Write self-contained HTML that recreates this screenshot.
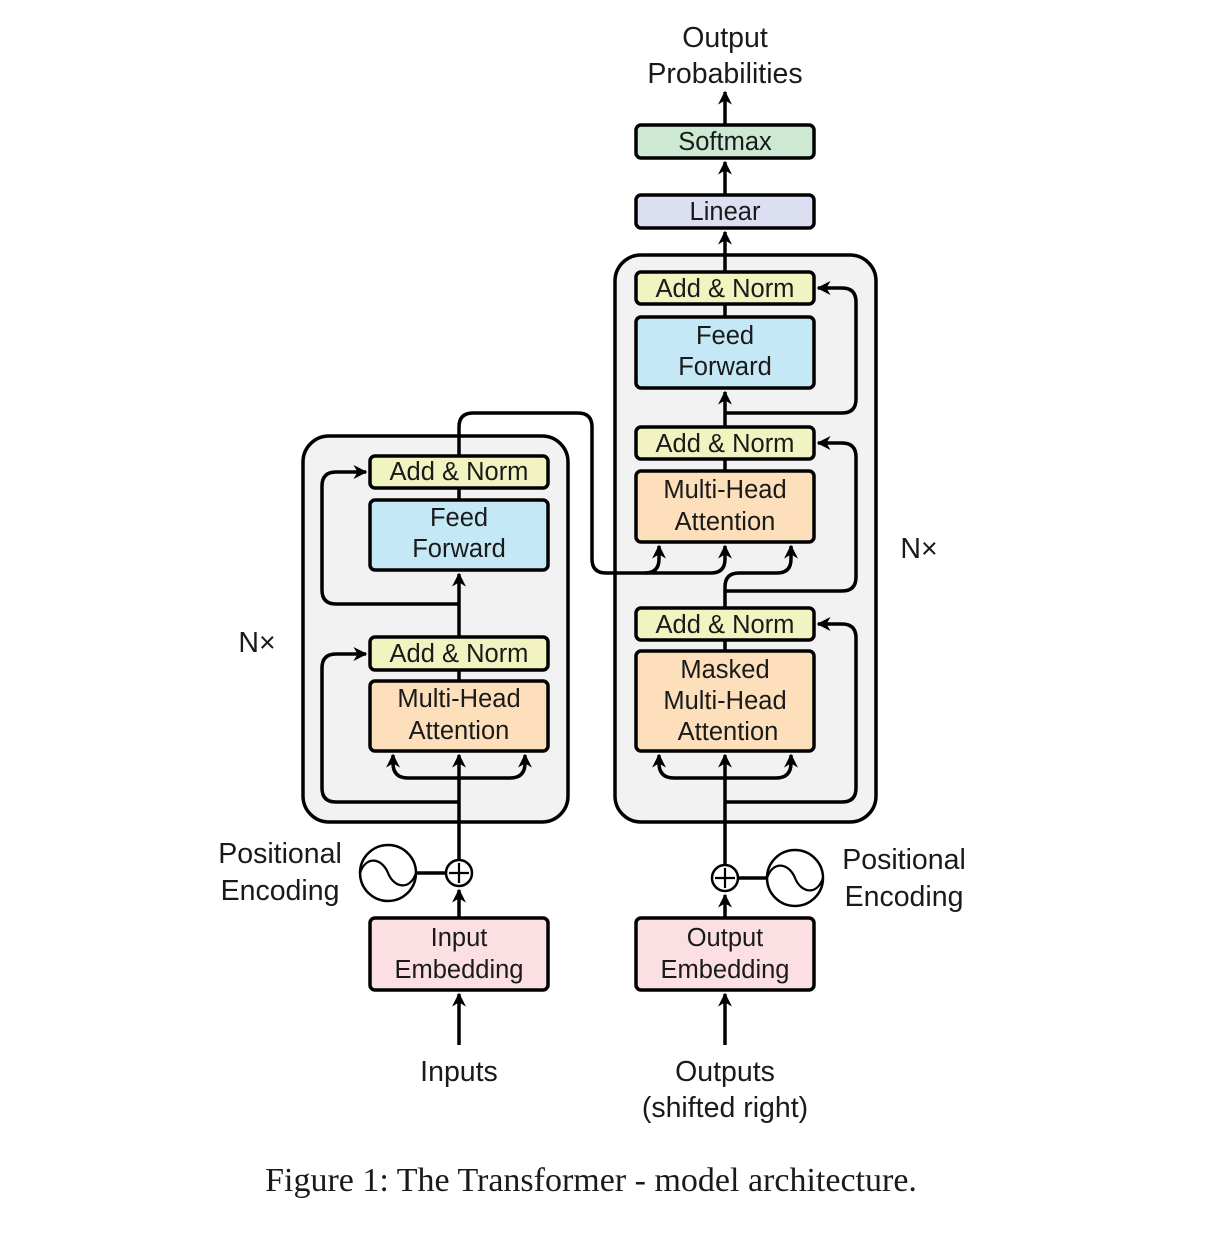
<!DOCTYPE html>
<html><head><meta charset="utf-8"><style>
html,body{margin:0;padding:0;background:#fff;}
svg{display:block;}
text{font-family:"Liberation Sans",sans-serif;fill:#1a1a1a;}
</style></head><body>
<svg width="1210" height="1236" viewBox="0 0 1210 1236" xmlns="http://www.w3.org/2000/svg">
<defs>
<marker id="a" viewBox="0 0 10 10" refX="9" refY="5" markerWidth="4" markerHeight="4" orient="auto-start-reverse" markerUnits="strokeWidth">
<path d="M0,0 L10,5 L0,10 L3,5 z" fill="#000"/></marker>
</defs>
<g stroke="#000" stroke-width="3.5" fill="none">
<rect x="303" y="436" width="265" height="386" rx="26" fill="#f2f2f2"/>
<rect x="615" y="255" width="261" height="567" rx="26" fill="#f2f2f2"/>
</g>
<g stroke="#000" stroke-width="3.5" fill="none" stroke-linejoin="round">
<path d="M459 1045 V994" marker-end="url(#a)"/>
<path d="M459 918 V890" marker-end="url(#a)"/>
<path d="M459 860 V755" marker-end="url(#a)"/>
<path d="M459 778 H408 Q393 778 393 763 V755" marker-end="url(#a)"/>
<path d="M459 778 H510 Q525 778 525 763 V755" marker-end="url(#a)"/>
<path d="M459 802 H336 Q322 802 322 788 V668 Q322 654 336 654 H366" marker-end="url(#a)"/>
<path d="M459 670 V681"/>
<path d="M459 637 V574" marker-end="url(#a)"/>
<path d="M459 604 H336 Q322 604 322 590 V486 Q322 472 336 472 H366" marker-end="url(#a)"/>
<path d="M459 488 V500"/>
<path d="M459 456 V427 Q459 413 473 413 H578 Q592 413 592 427 V559 Q592 573 606 573 H645 Q659 573 659 559 V546" marker-end="url(#a)"/>
<path d="M645 573 H711 Q725 573 725 559 V546" marker-end="url(#a)"/>
<path d="M725 1045 V994" marker-end="url(#a)"/>
<path d="M725 918 V895" marker-end="url(#a)"/>
<path d="M725 865 V755" marker-end="url(#a)"/>
<path d="M725 778 H674 Q659 778 659 763 V755" marker-end="url(#a)"/>
<path d="M725 778 H776 Q791 778 791 763 V755" marker-end="url(#a)"/>
<path d="M725 802 H842 Q856 802 856 788 V638 Q856 624 842 624 H818" marker-end="url(#a)"/>
<path d="M725 651 V640"/>
<path d="M725 608 V587 Q725 573 739 573 H777 Q791 573 791 559 V546" marker-end="url(#a)"/>
<path d="M725 591 H842 Q856 591 856 577 V457 Q856 443 842 443 H818" marker-end="url(#a)"/>
<path d="M725 459 V471"/>
<path d="M725 427 V392" marker-end="url(#a)"/>
<path d="M725 413 H842 Q856 413 856 399 V302 Q856 288 842 288 H818" marker-end="url(#a)"/>
<path d="M725 304 V317"/>
<path d="M725 272 V232" marker-end="url(#a)"/>
<path d="M725 195 V162" marker-end="url(#a)"/>
<path d="M725 125 V92" marker-end="url(#a)"/>
<path d="M416 873 H446"/>
<path d="M738 878 H767"/>
</g>
<g stroke="#000" stroke-width="3.5">
<rect x="370" y="456" width="178" height="32" rx="5" fill="#f1f4c0"/>
<rect x="370" y="500" width="178" height="70" rx="5" fill="#c5e8f6"/>
<rect x="370" y="637" width="178" height="33" rx="5" fill="#f1f4c0"/>
<rect x="370" y="681" width="178" height="70" rx="5" fill="#fde0bb"/>
<rect x="370" y="918" width="178" height="72" rx="5" fill="#fbdfe3"/>
<rect x="636" y="272" width="178" height="32" rx="5" fill="#f1f4c0"/>
<rect x="636" y="317" width="178" height="71" rx="5" fill="#c5e8f6"/>
<rect x="636" y="427" width="178" height="32" rx="5" fill="#f1f4c0"/>
<rect x="636" y="471" width="178" height="71" rx="5" fill="#fde0bb"/>
<rect x="636" y="608" width="178" height="32" rx="5" fill="#f1f4c0"/>
<rect x="636" y="651" width="178" height="100" rx="5" fill="#fde0bb"/>
<rect x="636" y="918" width="178" height="72" rx="5" fill="#fbdfe3"/>
<rect x="636" y="195" width="178" height="33" rx="5" fill="#dcdff1"/>
<rect x="636" y="125" width="178" height="33" rx="5" fill="#cde8d3"/>
</g>
<g stroke="#000" fill="#fff">
<circle cx="388" cy="873" r="28" stroke-width="2.5"/>
<circle cx="459" cy="873" r="13" stroke-width="2.5"/>
<circle cx="795" cy="878" r="28" stroke-width="2.5"/>
<circle cx="725" cy="878" r="13" stroke-width="2.5"/>
</g>
<g stroke="#000" stroke-width="2.2" fill="none">
<path d="M360 873 C366 855 382 858 388 873 C394 888 410 891 416 873"/>
<path d="M767 878 C773 860 789 863 795 878 C801 893 817 896 823 878"/>
<path d="M449 873 H469 M459 863 V883"/>
<path d="M715 878 H735 M725 868 V888"/>
</g>
<g font-size="25.5" text-anchor="middle">
<text x="459" y="480">Add &amp; Norm</text>
<text x="459" y="526">Feed</text><text x="459" y="557">Forward</text>
<text x="459" y="662">Add &amp; Norm</text>
<text x="459" y="707">Multi-Head</text><text x="459" y="739">Attention</text>
<text x="459" y="946">Input</text><text x="459" y="978">Embedding</text>
<text x="725" y="297">Add &amp; Norm</text>
<text x="725" y="344">Feed</text><text x="725" y="375">Forward</text>
<text x="725" y="452">Add &amp; Norm</text>
<text x="725" y="498">Multi-Head</text><text x="725" y="530">Attention</text>
<text x="725" y="633">Add &amp; Norm</text>
<text x="725" y="678">Masked</text><text x="725" y="709">Multi-Head</text><text x="728" y="740">Attention</text>
<text x="725" y="946">Output</text><text x="725" y="978">Embedding</text>
<text x="725" y="220">Linear</text>
<text x="725" y="150">Softmax</text>
</g>
<g font-size="28.5" text-anchor="middle">
<text x="725" y="47">Output</text><text x="725" y="83">Probabilities</text>
<text x="459" y="1081">Inputs</text>
<text x="725" y="1081">Outputs</text><text x="725" y="1117">(shifted right)</text>
<text x="280" y="863">Positional</text><text x="280" y="900">Encoding</text>
<text x="904" y="869">Positional</text><text x="904" y="906">Encoding</text>
<text x="257" y="652">N×</text>
<text x="919" y="558">N×</text>
</g>
<text x="591" y="1191" font-size="34" text-anchor="middle" style="font-family:'Liberation Serif',serif">Figure 1: The Transformer - model architecture.</text>
</svg>
</body></html>
